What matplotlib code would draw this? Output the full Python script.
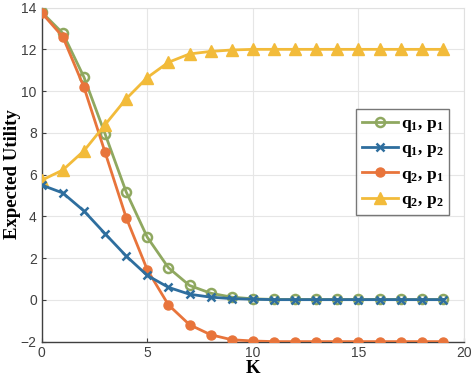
import matplotlib
matplotlib.use("Agg")
import matplotlib.pyplot as plt
import numpy as np

K = list(range(20))
q1p1 = [13.78, 12.77, 10.67, 7.95, 5.17, 3.0, 1.54, 0.69, 0.32, 0.13, 0.05, 0.02, 0.02, 0.02, 0.02, 0.02, 0.02, 0.02, 0.02, 0.02]
q1p2 = [5.5, 5.12, 4.26, 3.17, 2.1, 1.17, 0.6, 0.27, 0.13, 0.06, 0.03, 0.01, 0.01, 0.01, 0.01, 0.01, 0.01, 0.01, 0.01, 0.01]
q2p1 = [13.75, 12.6, 10.19, 7.07, 3.94, 1.44, -0.24, -1.19, -1.67, -1.91, -1.97, -2.0, -2.0, -2.0, -2.0, -2.0, -2.0, -2.0, -2.0, -2.0]
q2p2 = [5.73, 6.22, 7.14, 8.39, 9.63, 10.65, 11.38, 11.78, 11.9, 11.97, 12.0, 12.0, 12.0, 12.0, 12.0, 12.0, 12.0, 12.0, 12.0, 12.0]
labels = [r'$\mathbf{q_1},\,\mathbf{p_1}$', r'$\mathbf{q_1},\,\mathbf{p_2}$',
          r'$\mathbf{q_2},\,\mathbf{p_1}$', r'$\mathbf{q_2},\,\mathbf{p_2}$']
xticks = [0, 5, 10, 15, 20]
yticks = [-2, 0, 2, 4, 6, 8, 10, 12, 14]

plt.rcParams['mathtext.fontset'] = 'custom'
plt.rcParams['mathtext.bf'] = 'Liberation Serif:bold'
plt.rcParams['mathtext.rm'] = 'Liberation Serif:bold'
plt.rcParams['mathtext.it'] = 'Liberation Serif:bold'

fig = plt.figure(figsize=(4.74, 3.8), dpi=100)
ax = fig.add_axes([0.088, 0.101, 0.891, 0.879])

c_green = '#8FA860'
c_blue = '#2E6E9E'
c_orange = '#E8743B'
c_yellow = '#F2BB3A'

ax.plot(K, q1p1, color=c_green, lw=2, marker='o', ms=6.5, mfc='none', mew=1.8, label=labels[0], zorder=3)
ax.plot(K, q1p2, color=c_blue, lw=2, marker='x', ms=6, mew=1.8, label=labels[1], zorder=4)
ax.plot(K, q2p1, color=c_orange, lw=2, marker='o', ms=6.5, mfc=c_orange, mec=c_orange, label=labels[2], zorder=3)
ax.plot(K, q2p2, color=c_yellow, lw=2, marker='^', ms=8, mfc=c_yellow, mec=c_yellow, label=labels[3], zorder=3)

ax.set_xlim(0, 20)
ax.set_ylim(-2, 14)
ax.set_xticks(xticks)
ax.set_yticks(yticks)
ax.grid(True, color='#E6E6E6', lw=0.8)
ax.set_axisbelow(True)
for s in ['top', 'right']:
    ax.spines[s].set_color('#E0E0E0')
for s in ['left', 'bottom']:
    ax.spines[s].set_color('#404040')
    ax.spines[s].set_linewidth(1.0)
ax.tick_params(axis='both', labelsize=10, colors='#404040', length=3, direction='in',
               labelfontfamily='Liberation Sans')
ax.tick_params(axis='both', which='both', top=False, right=False)

ax.set_xlabel('K', fontsize=13.5, fontweight='bold', family='Liberation Serif', labelpad=0)
ax.set_ylabel('Expected Utility', fontsize=13.5, fontweight='bold', family='Liberation Serif', labelpad=0)

leg = ax.legend(loc='center right', bbox_to_anchor=(0.9645, 0.538), fontsize=12.5, frameon=True,
                fancybox=False, edgecolor='#555555', handlelength=2.1, handletextpad=0.15,
                borderpad=0.3, labelspacing=0.3, borderaxespad=0)
leg.get_frame().set_linewidth(1.0)

fig.savefig('out.png', dpi=100)
